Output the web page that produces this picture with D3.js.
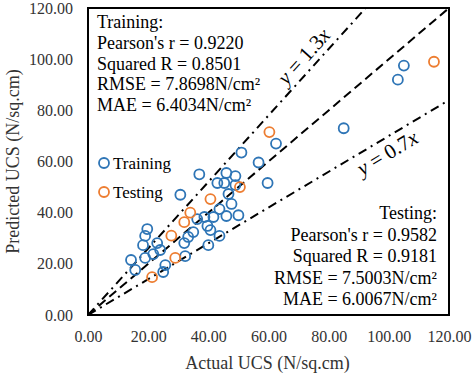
<!DOCTYPE html>
<html>
<head>
    <script src="https://cdn.jsdelivr.net/npm/d3@7/dist/d3.min.js" charset="utf-8"></script>
    <style>
        body { margin: 0; background: white; }
        text { font-family: "Liberation Serif", "Times New Roman", serif; }
    </style>
</head>
<body>
   <script>
        // data: [actual, predicted]
        var training = [
            [103, 92], [105, 97.5], [85, 73], [62.5, 67], [51, 63.5], [56.7, 59.6],
            [37, 55], [46, 55.5], [49, 54.3], [43, 51.6], [45.3, 51.6], [49, 50.8],
            [59.7, 51.6], [30.7, 47], [46.7, 47.3], [47.7, 43.4], [43.7, 41.4],
            [36.3, 37.5], [38.7, 38.3], [41.7, 38.3], [46, 38.7], [50, 39],
            [39.7, 34.8], [40.7, 33.2], [43.7, 30.9], [40, 27.3], [33.3, 30.5],
            [32, 28.1], [19.7, 33.6], [19, 30.9], [18.3, 27.3], [23, 28.1],
            [24, 25.4], [21.7, 23.8], [14.3, 21.5], [19, 22.3], [32.3, 23],
            [15.7, 17.6], [25.7, 19.5], [25, 16.8], [35, 32.4]
        ];
        var testing = [
            [115, 99], [60.3, 71.5], [50.5, 50], [40.7, 45.3], [34, 40],
            [32, 36.3], [27.7, 31], [29, 22.3], [21.3, 14.8]
        ];
        var ticks = [0, 20, 40, 60, 80, 100, 120];
        var refLines = [
            { k: 1, dash: "9,5" },
            { k: 1.3, dash: "9,5,2,5" },
            { k: 0.7, dash: "9,5,2,5" }
        ];
        var trainStats = ["Training:", "Pearson's r = 0.9220", "Squared R = 0.8501",
            "RMSE = 7.8698N/cm\u00b2", "MAE = 6.4034N/cm\u00b2"];
        var testStats = ["Testing:", "Pearson's r = 0.9582", "Squared R = 0.9181",
            "RMSE = 7.5003N/cm\u00b2", "MAE = 6.0067N/cm\u00b2"];

        var blue = "#2e75b6", orange = "#ed7d31";
        var plotL = 88, plotR = 449, plotT = 8, plotB = 315;

        var svg = d3.select("body")
            .append("svg")
            .attr("width", 474)
            .attr("height", 374);

        var x = d3.scaleLinear().domain([0, 120]).range([plotL, plotR]);
        var y = d3.scaleLinear().domain([0, 120]).range([plotB, plotT]);

        svg.append("clipPath").attr("id", "plot")
            .append("rect")
            .attr("x", plotL).attr("y", plotT)
            .attr("width", plotR - plotL).attr("height", plotB - plotT);

        // axes (labels only)
        svg.append("g")
            .attr("transform", "translate(0," + (plotB + 4) + ")")
            .call(d3.axisBottom(x).tickValues(ticks).tickSize(0).tickPadding(12)
                .tickFormat(d3.format(".2f")));
        svg.append("g")
            .attr("transform", "translate(" + (plotL - 15) + ",0)")
            .call(d3.axisLeft(y).tickValues(ticks).tickSize(0).tickPadding(0)
                .tickFormat(d3.format(".2f")));
        svg.selectAll(".domain").remove();
        svg.selectAll(".tick text")
            .style("font-family", "'Liberation Serif', 'Times New Roman', serif")
            .style("font-size", "16px")
            .attr("fill", "#333");

        svg.append("text")
            .attr("x", (plotL + plotR) / 2 - 1)
            .attr("y", 369)
            .attr("text-anchor", "middle")
            .style("font-size", "18px")
            .attr("fill", "#333")
            .text("Actual UCS (N/sq.cm)");
        svg.append("text")
            .attr("transform", "translate(19," + ((plotT + plotB) / 2) + ") rotate(-90)")
            .attr("text-anchor", "middle")
            .style("font-size", "18px")
            .attr("fill", "#333")
            .text("Predicted UCS (N/sq.cm)");

        // reference lines
        var plot = svg.append("g").attr("clip-path", "url(#plot)");
        plot.selectAll("line.ref")
            .data(refLines)
            .enter()
            .append("line")
            .attr("class", "ref")
            .attr("x1", x(0)).attr("y1", y(0))
            .attr("x2", function (d) { return x(Math.min(120, 120 / d.k)); })
            .attr("y2", function (d) { return y(Math.min(120, 120 * d.k)); })
            .attr("stroke", "black")
            .attr("stroke-width", 2)
            .attr("stroke-dasharray", function (d) { return d.dash; });

        // points
        plot.selectAll("circle.train")
            .data(training)
            .enter()
            .append("circle")
            .attr("cx", function (d) { return x(d[0]); })
            .attr("cy", function (d) { return y(d[1]); })
            .attr("r", 5)
            .style("fill", "none")
            .style("stroke", blue)
            .style("stroke-width", 1.8);
        plot.selectAll("circle.test")
            .data(testing)
            .enter()
            .append("circle")
            .attr("cx", function (d) { return x(d[0]); })
            .attr("cy", function (d) { return y(d[1]); })
            .attr("r", 5)
            .style("fill", "none")
            .style("stroke", orange)
            .style("stroke-width", 1.8);

        // line labels
        svg.append("text")
            .attr("transform", "translate(309,61) rotate(-48)")
            .attr("text-anchor", "middle")
            .style("font-size", "21px")
            .html("<tspan font-style='italic'>y</tspan> = 1.3<tspan font-style='italic'>x</tspan>");
        svg.append("text")
            .attr("transform", "translate(391,159) rotate(-31)")
            .attr("text-anchor", "middle")
            .style("font-size", "21px")
            .html("<tspan font-style='italic'>y</tspan> = 0.7<tspan font-style='italic'>x</tspan>");

        // stats
        svg.append("g").selectAll("text")
            .data(trainStats)
            .enter()
            .append("text")
            .attr("x", 97)
            .attr("y", function (d, i) { return 28 + i * 20.8; })
            .style("font-size", "18px")
            .text(function (d) { return d; });
        svg.append("g").selectAll("text")
            .data(testStats)
            .enter()
            .append("text")
            .attr("x", 437)
            .attr("y", function (d, i) { return 219 + i * 21.5; })
            .attr("text-anchor", "end")
            .style("font-size", "18px")
            .text(function (d) { return d; });

        // legend
        var legend = svg.append("g").selectAll("g")
            .data([["Training", blue], ["Testing", orange]])
            .enter()
            .append("g")
            .attr("transform", function (d, i) { return "translate(104," + (163 + i * 29) + ")"; });
        legend.append("circle")
            .attr("r", 5)
            .style("fill", "none")
            .style("stroke", function (d) { return d[1]; })
            .style("stroke-width", 1.8);
        legend.append("text")
            .attr("x", 9)
            .attr("y", 6)
            .style("font-size", "17px")
            .text(function (d) { return d[0]; });

        // frame
        svg.append("rect")
            .attr("x", plotL).attr("y", plotT)
            .attr("width", plotR - plotL).attr("height", plotB - plotT)
            .style("fill", "none")
            .style("stroke", "black")
            .style("stroke-width", 2);
    </script>
</body>
</html>
